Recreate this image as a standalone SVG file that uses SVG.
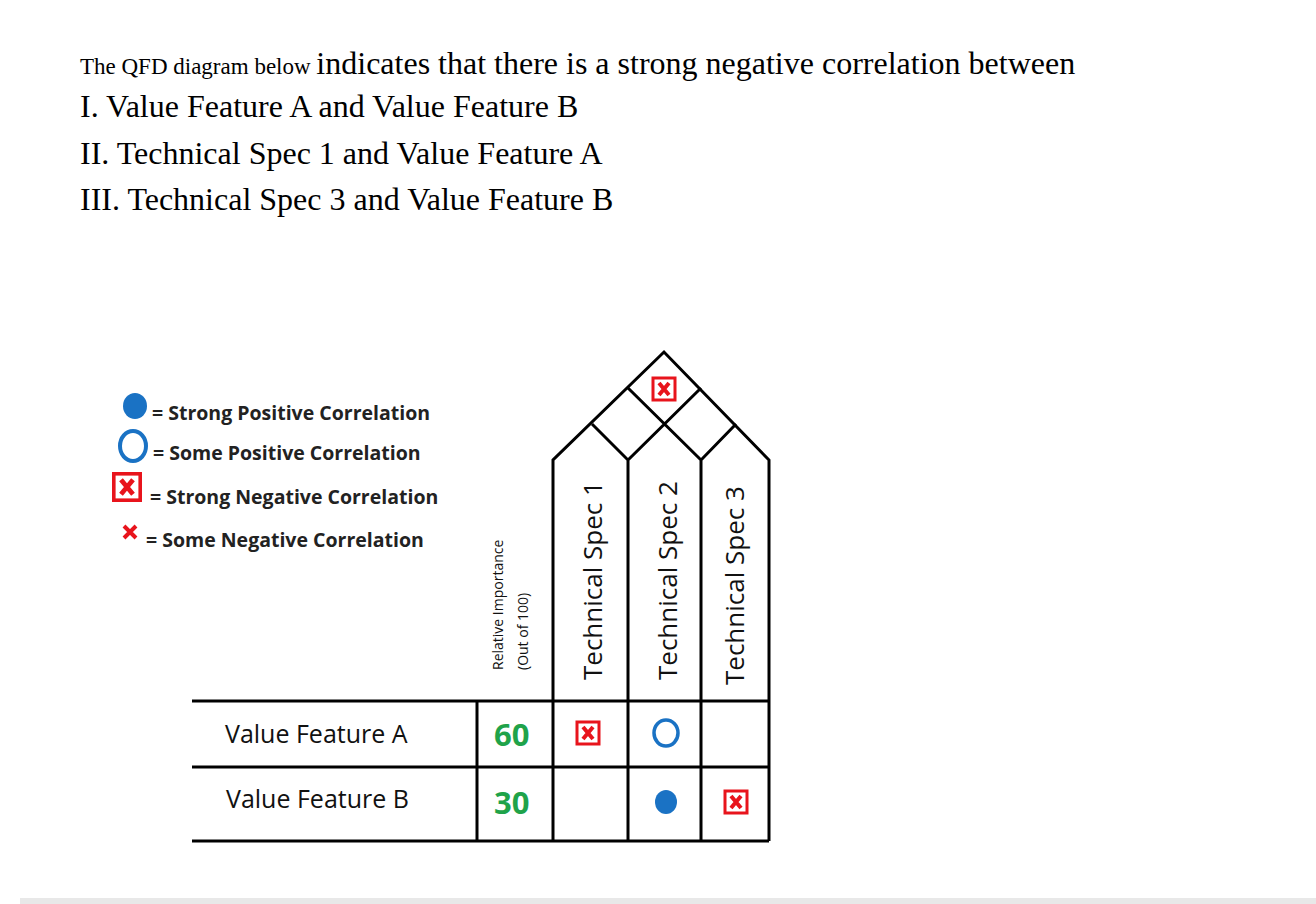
<svg xmlns="http://www.w3.org/2000/svg" width="1316" height="904" viewBox="0 0 1316 904">
<style>
.t{font-family:"Liberation Serif",serif;fill:#000}
.l{font-family:"Open Sans","Liberation Sans",sans-serif;font-size:19.5px;font-weight:bold;fill:#222}
.g{stroke:#000;stroke-width:3;fill:none}
.v{font-family:"Open Sans","Liberation Sans",sans-serif;font-size:25px;fill:#111}
.r{font-family:"Open Sans","Liberation Sans",sans-serif;font-size:14px;fill:#111}
.n{font-family:"Open Sans","Liberation Sans",sans-serif;font-size:31px;font-weight:bold;fill:#1fa34a}
.s{font-family:"Open Sans","Liberation Sans",sans-serif;font-size:26px;fill:#111}
</style>
<defs>
<g id="sn"><rect x="-11" y="-11" width="22" height="22" fill="#fff" stroke="#e8141c" stroke-width="3"/><path d="M-5,-6 L5,6 M5,-6 L-5,6" stroke="#e8141c" stroke-width="4"/></g>
</defs>
<rect width="1316" height="904" fill="#fff"/>
<rect x="20" y="898" width="1296" height="6" fill="#e8e8e8"/>
<text class="t" x="80" y="74" font-size="23">The QFD diagram below <tspan font-size="32">indicates that there is a strong negative correlation between</tspan></text>
<text class="t" x="80" y="117" font-size="32">I. Value Feature A and Value Feature B</text>
<text class="t" x="80" y="164" font-size="32">II. Technical Spec 1 and Value Feature A</text>
<text class="t" x="80" y="210" font-size="32">III. Technical Spec 3 and Value Feature B</text>
<g id="legend">
<ellipse cx="135" cy="406" rx="12" ry="13" fill="#1a72c4"/>
<text class="l" x="152" y="420">= Strong Positive Correlation</text>
<ellipse cx="133" cy="446" rx="13" ry="15" fill="none" stroke="#1a72c4" stroke-width="4"/>
<text class="l" x="153" y="460">= Some Positive Correlation</text>
<use href="#sn" transform="translate(127,487) scale(1.2)"/>
<text class="l" x="150" y="504">= Strong Negative Correlation</text>
<path d="M124,526 L136,538 M136,526 L124,538" stroke="#e8141c" stroke-width="4"/>
<text class="l" x="146" y="547">= Some Negative Correlation</text>
</g>
<g id="connectors">
<path class="g" d="M553,841 V460 L664,352 L769,460 V841"/>
<path class="g" d="M628,841 V460 L592,424 M628,460 L701,388 M701,841 V460 L736,424 M701,460 L628,388"/>
<path class="g" d="M192,701 H769 M192,767 H769 M192,841 H769 M477,701 V841"/>
</g>
<g id="headers">
<text class="r" transform="translate(503,670) rotate(-90)">Relative Importance</text>
<text class="r" transform="translate(528,670) rotate(-90)">(Out of 100)</text>
<text class="s" transform="translate(602,680) rotate(-90)">Technical Spec 1</text>
<text class="s" transform="translate(677,680) rotate(-90)">Technical Spec 2</text>
<text class="s" transform="translate(744,685) rotate(-90)">Technical Spec 3</text>
</g>
<g id="rows">
<text class="v" x="225" y="743">Value Feature A</text>
<text class="v" x="226" y="808">Value Feature B</text>
<text class="n" x="494" y="746">60</text>
<text class="n" x="494" y="814">30</text>
</g>
<g id="cells">
<use href="#sn" transform="translate(664,389)"/>
<use href="#sn" transform="translate(588,733)"/>
<ellipse cx="666" cy="733" rx="12" ry="13" fill="none" stroke="#1a72c4" stroke-width="3.5"/>
<ellipse cx="666" cy="802" rx="11" ry="12" fill="#1a72c4"/>
<use href="#sn" transform="translate(736,802)"/>
</g>
</svg>
